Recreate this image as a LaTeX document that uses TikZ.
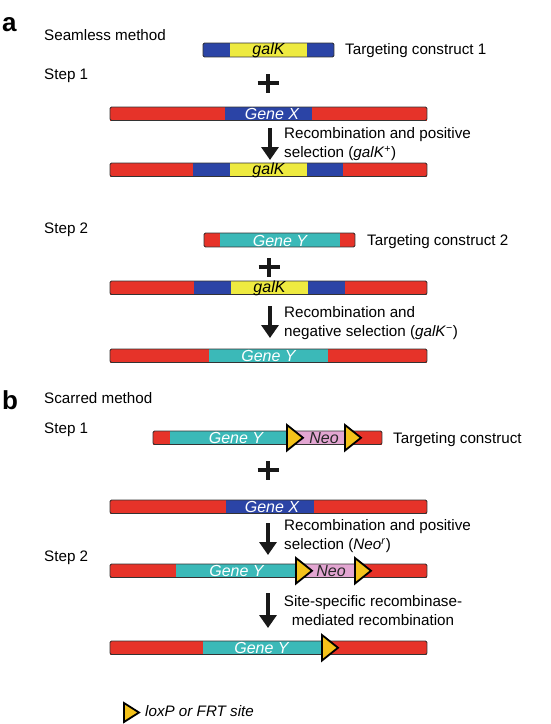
\documentclass[tikz,border=0pt]{standalone}
\usepackage{fontspec}
\setmainfont{Liberation Sans}
\usetikzlibrary{arrows.meta}
\definecolor{cred}{HTML}{E63329}
\definecolor{cblue}{HTML}{2B44A6}
\definecolor{cyel}{HTML}{EEEA40}
\definecolor{ccyan}{HTML}{3BB9B8}
\definecolor{cpink}{HTML}{E3A6D2}
\definecolor{csite}{HTML}{F4C21A}
\tikzset{
  lbl/.style={anchor=west, inner sep=0, font=\fontsize{15.2}{19}\selectfont},
  panel/.style={anchor=north west, inner sep=0, font=\fontsize{26}{28}\selectfont\bfseries},
  outline/.style={draw=black!80, line width=0.8pt, rounded corners=1.5pt, inner sep=0, minimum height=13.5pt},
  intext/.style={font=\fontsize{16}{17}\selectfont\itshape, inner sep=0},
  arr/.style={line width=4.5pt, draw=black!90, -{Triangle[width=17pt,length=13pt]}},
  plusbar/.style={line width=4.8pt, draw=black!90},
  site/.style={fill=csite, draw=black, line width=1.8pt, line join=miter},
}
\begin{document}
\begin{tikzpicture}[x=1pt,y=-1pt]
\useasboundingbox (0,0) rectangle (550,724);

% ---------------- panel a ----------------
\node[panel] (pa) at (2,17) {a};
\node[lbl] (seam) at (44,35) {Seamless method};

% construct 1
\fill[cblue] (203,43) rectangle (230,57);
\fill[cyel] (230,43) rectangle (307,57);
\fill[cblue] (307,43) rectangle (334,57);
\node[outline, minimum width=131pt, minimum height=14pt] (tc1) at (268.5,50) {};
\node[intext] (tc1l) at (268.5,50.5) {galK};
\node[lbl] (tc1t) at (345,51) {Targeting construct 1};

\node[lbl] (s1a) at (44,76) {Step 1};
\coordinate (p1) at (268,83);
\draw[plusbar] ([xshift=-10.5pt]p1) -- ([xshift=10.5pt]p1);
\draw[plusbar] ([yshift=-9.5pt]p1) -- ([yshift=9.5pt]p1);

% gene X bar
\fill[cred] (110,107) rectangle (225,120.5);
\fill[cblue] (225,107) rectangle (312,120.5);
\fill[cred] (312,107) rectangle (427,120.5);
\node[outline, minimum width=317pt] (gx1) at (268.5,113.75) {};
\node[intext, text=white] (gx1l) at (272,114.25) {Gene X};

\coordinate (a1s) at (270,128);
\coordinate (a1e) at (270,160);
\draw[arr] (a1s) -- (a1e);
\node[lbl, align=left] (a1t) at (284,144.5) {Recombination and positive\\selection (\textit{galK}\textsuperscript{+})};

% result 1
\fill[cred] (110,163) rectangle (193,176.5);
\fill[cblue] (193,163) rectangle (230,176.5);
\fill[cyel] (230,163) rectangle (307,176.5);
\fill[cblue] (307,163) rectangle (343,176.5);
\fill[cred] (343,163) rectangle (427,176.5);
\node[outline, minimum width=317pt] (r1) at (268.5,169.75) {};
\node[intext] (r1l) at (268.5,170.25) {galK};

% step 2
\node[lbl] (s2a) at (44,230) {Step 2};
\fill[cred] (204,233) rectangle (220,247);
\fill[ccyan] (220,233) rectangle (340,247);
\fill[cred] (340,233) rectangle (355,247);
\node[outline, minimum width=151pt, minimum height=14pt] (tc2) at (279.5,240) {};
\node[intext, text=white] (tc2l) at (280,240.5) {Gene Y};
\node[lbl] (tc2t) at (367,242) {Targeting construct 2};

\coordinate (p2) at (269,267);
\draw[plusbar] ([xshift=-10.5pt]p2) -- ([xshift=10.5pt]p2);
\draw[plusbar] ([yshift=-9.5pt]p2) -- ([yshift=9.5pt]p2);

\fill[cred] (110,281) rectangle (194,294.5);
\fill[cblue] (194,281) rectangle (231,294.5);
\fill[cyel] (231,281) rectangle (308,294.5);
\fill[cblue] (308,281) rectangle (345,294.5);
\fill[cred] (345,281) rectangle (427,294.5);
\node[outline, minimum width=317pt] (r1b) at (268.5,287.75) {};
\node[intext] (r1bl) at (269.5,288.25) {galK};

\coordinate (a2s) at (270,306);
\coordinate (a2e) at (270,338);
\draw[arr] (a2s) -- (a2e);
\node[lbl, align=left] (a2t) at (284,323) {Recombination and\\negative selection (\textit{galK}\textsuperscript{−})};

\fill[cred] (110,349) rectangle (209,362.5);
\fill[ccyan] (209,349) rectangle (328,362.5);
\fill[cred] (328,349) rectangle (427,362.5);
\node[outline, minimum width=317pt] (r2) at (268.5,355.75) {};
\node[intext, text=white] (r2l) at (268.5,356.25) {Gene Y};

% ---------------- panel b ----------------
\node[panel] (pb) at (2,390) {b};
\node[lbl] (scar) at (44,398) {Scarred method};
\node[lbl] (s1b) at (44,430) {Step 1};

\fill[cred] (153,431) rectangle (170,444.5);
\fill[ccyan] (170,431) rectangle (287,444.5);
\fill[cpink] (287,431) rectangle (350,444.5);
\fill[cred] (350,431) rectangle (382,444.5);
\node[outline, minimum width=229pt] (tc3) at (267.5,437.75) {};
\node[intext, text=white] (tc3l) at (236,438.25) {Gene Y};
\node[intext, text=black!85] (tc3n) at (324,438.25) {Neo};
\draw[site] (287,425) -- (303,437.75) -- (287,450.5) -- cycle;
\draw[site] (345,425) -- (361,437.75) -- (345,450.5) -- cycle;
\node[lbl] (tc3t) at (393,440) {Targeting construct};

\coordinate (p3) at (268,470);
\draw[plusbar] ([xshift=-10.5pt]p3) -- ([xshift=10.5pt]p3);
\draw[plusbar] ([yshift=-9.5pt]p3) -- ([yshift=9.5pt]p3);

\fill[cred] (110,500) rectangle (226,513.5);
\fill[cblue] (226,500) rectangle (314,513.5);
\fill[cred] (314,500) rectangle (427,513.5);
\node[outline, minimum width=317pt] (gx2) at (268.5,506.75) {};
\node[intext, text=white] (gx2l) at (272,507.25) {Gene X};

\coordinate (a3s) at (268,523);
\coordinate (a3e) at (268,555);
\draw[arr] (a3s) -- (a3e);
\node[lbl, align=left] (a3t) at (284,536.5) {Recombination and positive\\selection (\textit{Neo}\textsuperscript{\textit{r}})};

\node[lbl] (s2b) at (44,558) {Step 2};
\fill[cred] (110,564) rectangle (176,577.5);
\fill[ccyan] (176,564) rectangle (296,577.5);
\fill[cpink] (296,564) rectangle (358,577.5);
\fill[cred] (358,564) rectangle (427,577.5);
\node[outline, minimum width=317pt] (r3) at (268.5,570.75) {};
\node[intext, text=white] (r3l) at (236.5,571.25) {Gene Y};
\node[intext, text=black!85] (r3n) at (331,571.25) {Neo};
\draw[site] (296,558) -- (312,570.75) -- (296,583.5) -- cycle;
\draw[site] (355,558) -- (371,570.75) -- (355,583.5) -- cycle;

\coordinate (a4s) at (268,593);
\coordinate (a4e) at (268,628);
\draw[arr] (a4s) -- (a4e);
\node[lbl, anchor=center, align=center] (a4t) at (373,611) {Site-specific recombinase-\\mediated recombination};

\fill[cred] (110,641) rectangle (203,654.5);
\fill[ccyan] (203,641) rectangle (322,654.5);
\fill[cred] (322,641) rectangle (427,654.5);
\node[outline, minimum width=317pt] (r4) at (268.5,647.75) {};
\node[intext, text=white] (r4l) at (261.5,648.25) {Gene Y};
\draw[site] (322,635) -- (338,647.75) -- (322,660.5) -- cycle;

% legend
\draw[site] (124,703) -- (139,712.5) -- (124,722) -- cycle;
\node[lbl, font=\fontsize{15.2}{17}\selectfont\itshape] (leg) at (145,711) {loxP or FRT site};
\end{tikzpicture}
\end{document}
